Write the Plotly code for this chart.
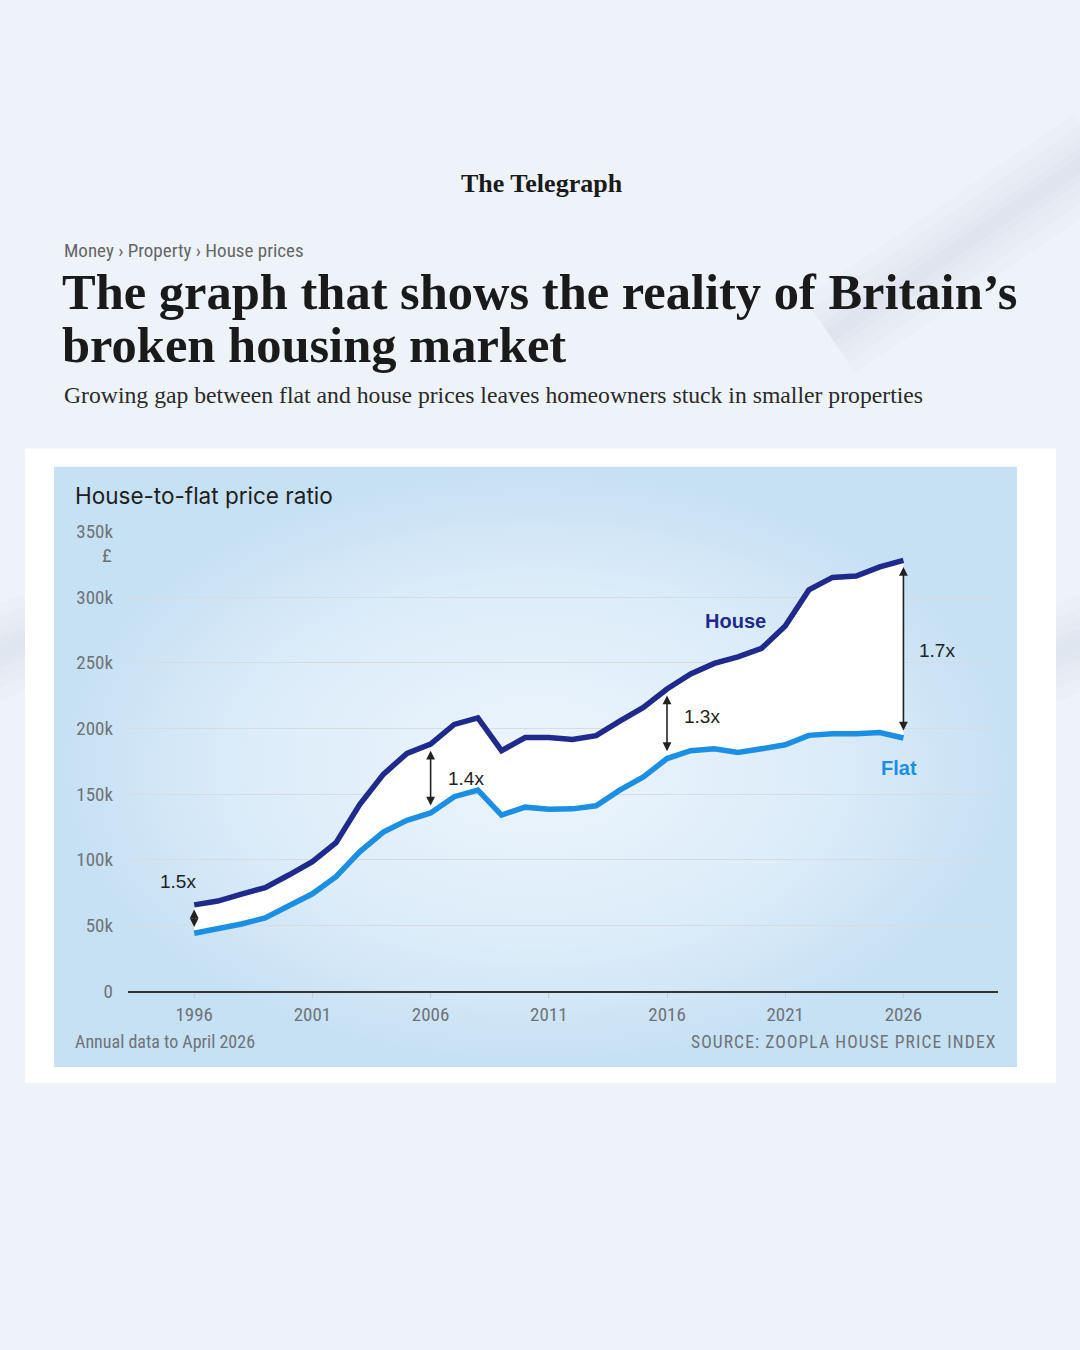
import plotly.graph_objects as go

W, H = 1080, 1350

years = list(range(1996, 2027))
house = [65600, 68500, 73800, 78700, 88300, 98500, 113000, 142000, 165000, 181000,
         188000, 203000, 208000, 183000, 193000, 193000, 191500, 194500, 205500, 216000,
         230000, 241500, 249500, 254500, 261000, 278000, 305500, 315000, 316000, 323000,
         328000]
flat = [44000, 47000, 51000, 55700, 65000, 74000, 87000, 106000, 121000, 130000,
        135600, 148000, 153000, 134000, 140000, 138500, 138700, 141000, 153000, 163000,
        177000, 183000, 184500, 181600, 184500, 187500, 194700, 196000, 196000, 196800,
        192700]

tick_years = [1996, 2001, 2006, 2011, 2016, 2021, 2026]
y_ticks = [0, 50000, 100000, 150000, 200000, 250000, 300000, 350000]
y_tick_text = ["0", "50k", "100k", "150k", "200k", "250k", "300k", "350k"]

ratio_years = [1996, 2006, 2016, 2026]
ratio_labels = ["1.5x", "1.4x", "1.3x", "1.7x"]

HOUSE_C = "#1f2a8c"
FLAT_C = "#1a8fe3"
GREY = "#6e7378"
NARROW = "Liberation Sans Narrow, Roboto Condensed, Roboto, sans-serif"
SERIF = "Liberation Serif, serif"


def px_x(p):
    return p / W


def px_y(p):
    # pixel rows measured on the reference, mapped to paper fraction
    p = (p - 10) / 0.984
    return 1 - p / H


fig = go.Figure()

# panel background with a soft radial gradient (own hidden axes, drawn first)
fig.add_trace(go.Scatter(
    x=[0, 1, 1, 0, 0], y=[0, 0, 1, 1, 0], mode="lines", line=dict(width=0),
    fill="toself",
    fillgradient=dict(type="radial",
                      colorscale=[[0, "#edf5fc"], [0.6, "#dcecf9"], [1, "#c6e0f4"]]),
    hoverinfo="skip", showlegend=False, xaxis="x", yaxis="y"))

# flat baseline for the white fill, then house with fill, then flat line on top
fig.add_trace(go.Scatter(x=years, y=flat, mode="lines", line=dict(width=0),
                         hoverinfo="skip", showlegend=False, xaxis="x2", yaxis="y2"))
fig.add_trace(go.Scatter(x=years, y=house, mode="lines", fill="tonexty",
                         fillcolor="white",
                         line=dict(color=HOUSE_C, width=5.5),
                         showlegend=False, name="House", xaxis="x2", yaxis="y2"))
fig.add_trace(go.Scatter(x=years, y=flat, mode="lines",
                         line=dict(color=FLAT_C, width=5.5),
                         showlegend=False, name="Flat", xaxis="x2", yaxis="y2"))

ann = []

# ratio arrows between the two lines
for yr, lab in zip(ratio_years, ratio_labels):
    i = years.index(yr)
    top = house[i] - 5000
    bot = flat[i] + 4500
    if yr == 1996:
        top, bot = house[i] - 3500, flat[i] + 3500
    ann.append(dict(x=yr, y=top, ax=yr, ay=bot, xref="x2", yref="y2",
                    axref="x2", ayref="y2", text="", showarrow=True,
                    arrowside="end+start", arrowhead=2, startarrowhead=2,
                    arrowsize=1.1, startarrowsize=1.1, arrowwidth=1.6,
                    arrowcolor="#222"))

label_pos = {"1.5x": (1995.3, 83000), "1.4x": (2007.5, 162000),
             "1.3x": (2017.5, 209000), "1.7x": (2027.4, 259000)}
for lab in ratio_labels:
    lx, ly = label_pos[lab]
    ann.append(dict(x=lx, y=ly, xref="x2", yref="y2", text=lab, showarrow=False,
                    font=dict(family="Liberation Sans, Arial, sans-serif", size=19,
                              color="#222")))

ann.append(dict(x=2018.9, y=281500, xref="x2", yref="y2", text="<b>House</b>",
                showarrow=False,
                font=dict(family="Liberation Sans, Arial", size=20, color=HOUSE_C)))
ann.append(dict(x=2025.8, y=170000, xref="x2", yref="y2", text="<b>Flat</b>",
                showarrow=False,
                font=dict(family="Liberation Sans, Arial", size=20, color=FLAT_C)))

# chart texts
ann.append(dict(x=px_x(73), y=px_y(495), xref="paper", yref="paper",
                xanchor="left", yanchor="middle", showarrow=False,
                text="House-to-flat price ratio",
                font=dict(family="Inter, sans-serif", size=22.5, color="#1e1e1e")))
ann.append(dict(x=px_x(114), y=px_y(555), xref="paper", yref="paper",
                xanchor="right", yanchor="middle", showarrow=False, text="£",
                font=dict(family=NARROW, size=19, color=GREY)))
ann.append(dict(x=px_x(73), y=px_y(1042), xref="paper", yref="paper",
                xanchor="left", yanchor="middle", showarrow=False,
                text="Annual data to April 2026",
                font=dict(family=NARROW, size=18, color=GREY)))
ann.append(dict(x=px_x(998), y=px_y(1042), xref="paper", yref="paper",
                xanchor="right", yanchor="middle", showarrow=False,
                text='<span style="letter-spacing:1.1px">SOURCE: ZOOPLA HOUSE PRICE INDEX</span>',
                font=dict(family=NARROW, size=17.5, color=GREY)))

# page header
ann.append(dict(x=px_x(542), y=px_y(183), xref="paper", yref="paper",
                xanchor="center", yanchor="middle", showarrow=False,
                text="<b>The Telegraph</b>",
                font=dict(family=SERIF, size=26, color="#1a1a1a")))
ann.append(dict(x=px_x(62), y=px_y(250), xref="paper", yref="paper",
                xanchor="left", yanchor="middle", showarrow=False,
                text="Money › Property › House prices",
                font=dict(family=NARROW, size=19, color="#666")))
ann.append(dict(x=px_x(60), y=px_y(291), xref="paper", yref="paper",
                xanchor="left", yanchor="middle", showarrow=False,
                text="<b>The graph that shows the reality of Britain’s</b>",
                font=dict(family=SERIF, size=50.5, color="#1a1a1a")))
ann.append(dict(x=px_x(60), y=px_y(344), xref="paper", yref="paper",
                xanchor="left", yanchor="middle", showarrow=False,
                text="<b>broken housing market</b>",
                font=dict(family=SERIF, size=50.5, color="#1a1a1a")))
ann.append(dict(x=px_x(62), y=px_y(394), xref="paper", yref="paper",
                xanchor="left", yanchor="middle", showarrow=False,
                text="Growing gap between flat and house prices leaves homeowners stuck in smaller properties",
                font=dict(family=SERIF, size=23.7, color="#2a2a2a")))

shapes = []
# faint soft shadows on the page background
for w in [90, 65, 45, 28, 14]:
    shapes.append(dict(type="line", xref="paper", yref="paper", layer="below",
                       x0=px_x(830), y0=px_y(335), x1=px_x(1100), y1=px_y(150),
                       line=dict(color="#8a97b4", width=w), opacity=0.025))
    shapes.append(dict(type="line", xref="paper", yref="paper", layer="below",
                       x0=px_x(-30), y0=px_y(665), x1=px_x(40), y1=px_y(635),
                       line=dict(color="#8a97b4", width=w), opacity=0.02))
    shapes.append(dict(type="line", xref="paper", yref="paper", layer="below",
                       x0=px_x(1040), y0=px_y(660), x1=px_x(1110), y1=px_y(630),
                       line=dict(color="#8a97b4", width=w), opacity=0.02))
# white card behind the chart
shapes.append(dict(type="rect", xref="paper", yref="paper", layer="below",
                   x0=px_x(25), x1=px_x(1056), y0=px_y(1083), y1=px_y(448),
                   fillcolor="white", line=dict(width=0)))

fig.update_layout(
    width=W, height=H, autosize=False,
    margin=dict(l=0, r=0, t=0, b=0),
    paper_bgcolor="#eef3f9",
    plot_bgcolor="rgba(0,0,0,0)",
    showlegend=False,
    annotations=ann,
    shapes=shapes,
    xaxis=dict(domain=[px_x(54), px_x(1017)], range=[0, 1], visible=False,
               fixedrange=True),
    yaxis=dict(domain=[px_y(1067), px_y(466)], range=[0, 1], visible=False,
               fixedrange=True),
    xaxis2=dict(domain=[px_x(128), px_x(998)], range=[1993.2, 2030],
                anchor="y2", tickvals=tick_years, showgrid=False, zeroline=False,
                showline=True, linecolor="#333", linewidth=1.5,
                ticks="outside", ticklen=5, tickcolor="#c8ccd0",
                ticklabelstandoff=0,
                tickfont=dict(family=NARROW, size=19, color=GREY)),
    yaxis2=dict(domain=[px_y(991), px_y(531)], range=[0, 350000],
                anchor="x2", tickvals=y_ticks, ticktext=y_tick_text,
                showgrid=True, gridcolor="#d6dce2", gridwidth=1, zeroline=False,
                showline=False, ticks="", ticklabelstandoff=14,
                tickfont=dict(family=NARROW, size=19, color=GREY)),
)

fig.write_html("out.html", config={"displayModeBar": False},
               post_script="document.body.style.margin='0';"
                           "document.body.style.overflow='hidden';")
